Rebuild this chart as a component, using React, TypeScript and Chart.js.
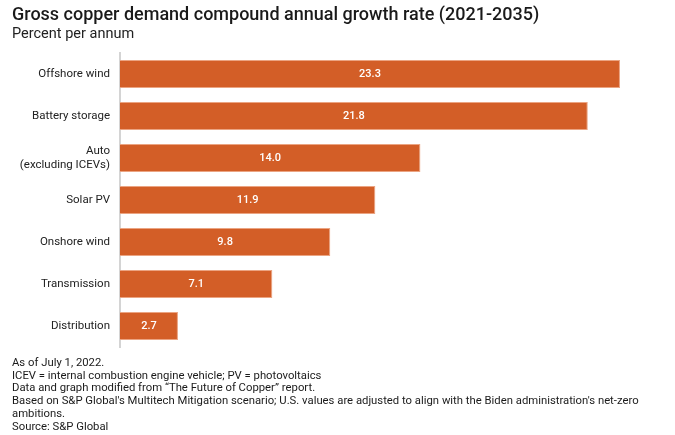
import React, { useEffect, useRef } from "react";
import { Chart, registerables } from "chart.js";

Chart.register(...registerables);

const categories: (string | string[])[] = [
  "Offshore wind",
  "Battery storage",
  ["Auto", "(excluding ICEVs)"],
  "Solar PV",
  "Onshore wind",
  "Transmission",
  "Distribution",
];
const values: number[] = [23.3, 21.8, 14.0, 11.9, 9.8, 7.1, 2.7];

const titleText = "Gross copper demand compound annual growth rate (2021-2035)";
const subtitleText = "Percent per annum";
const footnotes: string[] = [
  "As of July 1, 2022.",
  "ICEV = internal combustion engine vehicle; PV = photovoltaics",
  "Data and graph modified from \u201cThe Future of Copper\u201d report.",
  "Based on S&P Global's Multitech Mitigation scenario; U.S. values are adjusted to align with the Biden administration's net-zero ambitions.",
  "Source: S&P Global",
];

const FONT = "Roboto, 'Noto Sans', sans-serif";
const BAR = "#D35E27";

const valueLabels = {
  id: "valueLabels",
  afterDatasetsDraw(chart: any) {
    const ctx = chart.ctx;
    const meta = chart.getDatasetMeta(0);
    ctx.save();
    ctx.fillStyle = "#ffffff";
    ctx.font = `500 11px ${FONT}`;
    ctx.textAlign = "center";
    ctx.textBaseline = "middle";
    meta.data.forEach((bar: any, i: number) => {
      const cx = (bar.base + bar.x) / 2;
      ctx.fillText(values[i].toFixed(1), cx, bar.y + 0.5);
    });
    ctx.restore();
  },
};

export default function App() {
  const ref = useRef<HTMLCanvasElement>(null);
  useEffect(() => {
    if (!ref.current) return;
    const chart = new Chart(ref.current, {
      type: "bar",
      data: {
        labels: categories,
        datasets: [
          {
            data: values,
            backgroundColor: BAR,
            borderColor: "#EBA482",
            borderWidth: 1,
            barPercentage: 0.667,
            categoryPercentage: 1,
          },
        ],
      },
      options: {
        indexAxis: "y",
        animation: false,
        responsive: false,
        maintainAspectRatio: false,
        layout: { padding: { top: 53, bottom: 88, left: 0, right: 40 } },
        plugins: {
          legend: { display: false },
          tooltip: { enabled: false },
          title: { display: false },
        },
        scales: {
          x: { display: false, min: 0, max: 24 },
          y: {
            afterFit: (s: any) => {
              s.width = 120;
            },
            grid: { display: false, drawTicks: false },
            border: { display: true, color: "#d4d4d4", width: 2 },
            ticks: {
              color: "#222222",
              padding: 10,
              font: { family: FONT, size: 11.5 },
            },
          },
        },
      },
      plugins: [valueLabels],
    });
    return () => chart.destroy();
  }, []);

  return (
    <div
      style={{
        position: "absolute",
        left: 0,
        top: 0,
        width: 675,
        height: 435,
        background: "#ffffff",
        fontFamily: FONT,
        overflow: "hidden",
      }}
    >
      <canvas
        ref={ref}
        width={675}
        height={435}
        style={{ position: "absolute", left: 0, top: 0, width: 675, height: 435 }}
      />
      <div
        style={{
          position: "absolute",
          left: 12,
          top: 3,
          fontSize: 18,
          fontWeight: 500,
          color: "#1a1a1a",
          whiteSpace: "nowrap",
        }}
      >
        {titleText}
      </div>
      <div
        style={{
          position: "absolute",
          left: 12,
          top: 25,
          fontSize: 14.5,
          color: "#222222",
          whiteSpace: "nowrap",
        }}
      >
        {subtitleText}
      </div>
      <div
        style={{
          position: "absolute",
          left: 12,
          top: 357,
          width: 635,
          fontSize: 11.3,
          lineHeight: "12.7px",
          color: "#1a1a1a",
        }}
      >
        {footnotes.map((f, i) => (
          <div key={i}>{f}</div>
        ))}
      </div>
    </div>
  );
}
